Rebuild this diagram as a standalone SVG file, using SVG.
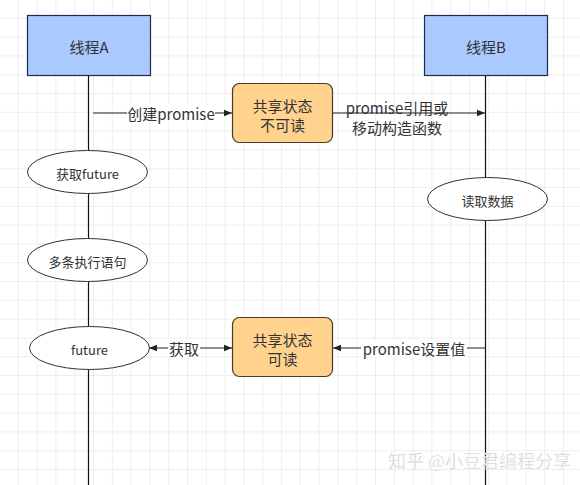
<svg xmlns="http://www.w3.org/2000/svg" width="580" height="485" viewBox="0 0 580 485">
<defs>
<pattern id="grid" width="18.8" height="18.8" patternUnits="userSpaceOnUse" x="0" y="0">
<path d="M18.8 0V18.8M0 18.8H18.8" fill="none" stroke="#dedede" stroke-width="1"/>
</pattern>
<marker id="ah" viewBox="0 0 10 10" refX="10" refY="5" markerWidth="8" markerHeight="8" markerUnits="userSpaceOnUse" orient="auto-start-reverse">
<path d="M0 1L10 5L0 9Z" fill="#222"/>
</marker>
<style>
.t{font-family:"Microsoft YaHei","Noto Sans CJK SC","Noto Sans",sans-serif;fill:#333;text-anchor:middle;dominant-baseline:central}
.thread{fill:#A9C9FF;stroke:#1c2b4a;stroke-width:1.2}
.state{fill:#FFD28E;stroke:#4a3a22;stroke-width:1.2}
.ell{fill:#fff;stroke:#333;stroke-width:1}
.life{stroke:#111;stroke-width:1.2;fill:none}
.edge{stroke:#222;stroke-width:1;fill:none}
.lbl{fill:#fff}
</style>
</defs>
<rect width="580" height="485" fill="#fff"/>
<rect width="580" height="485" fill="url(#grid)"/>

<g id="lifelines">
<line class="life" x1="88.5" y1="75" x2="88.5" y2="485"/>
<line class="life" x1="485.5" y1="75" x2="485.5" y2="485"/>
</g>

<g id="connectors">
<line class="edge" x1="93" y1="113" x2="232" y2="113" marker-end="url(#ah)"/>
<rect class="lbl" x="127" y="104" width="88" height="18"/>
<text class="t" x="171" y="113" font-size="15">创建promise</text>

<line class="edge" x1="333" y1="113" x2="485" y2="113" marker-end="url(#ah)"/>
<text class="t" x="397" y="107" font-size="15">promise引用或</text>
<text class="t" x="397" y="127.5" font-size="15">移动构造函数</text>

<line class="edge" x1="149" y1="348" x2="232" y2="348" marker-start="url(#ah)" marker-end="url(#ah)"/>
<rect class="lbl" x="168" y="339" width="32" height="18"/>
<text class="t" x="184" y="348" font-size="15">获取</text>

<line class="edge" x1="485" y1="348" x2="333" y2="348" marker-end="url(#ah)"/>
<rect class="lbl" x="361" y="339" width="106" height="18"/>
<text class="t" x="414" y="348" font-size="15">promise设置值</text>
</g>

<g id="threadA">
<rect class="thread" x="27.5" y="15.5" width="123" height="60"/>
<text class="t" x="89" y="46" font-size="15">线程A</text>
</g>
<g id="threadB">
<rect class="thread" x="424.5" y="15.5" width="123" height="60"/>
<text class="t" x="486" y="46" font-size="15">线程B</text>
</g>

<g id="state1">
<rect class="state" x="232.5" y="83.5" width="100" height="59" rx="7"/>
<text class="t" x="282.5" y="105" font-size="15">共享状态</text>
<text class="t" x="282.5" y="124" font-size="15">不可读</text>
</g>
<g id="state2">
<rect class="state" x="232.5" y="317.5" width="100" height="59" rx="7"/>
<text class="t" x="282.5" y="339" font-size="15">共享状态</text>
<text class="t" x="282.5" y="358" font-size="15">可读</text>
</g>

<g id="getFuture">
<ellipse class="ell" cx="87.5" cy="172" rx="60" ry="21.5"/>
<text class="t" x="87.5" y="173" font-size="13">获取future</text>
</g>
<g id="statements">
<ellipse class="ell" cx="87.5" cy="260" rx="60" ry="21.5"/>
<text class="t" x="87.5" y="261" font-size="13">多条执行语句</text>
</g>
<g id="future">
<ellipse class="ell" cx="89.5" cy="348" rx="60" ry="21.5"/>
<text class="t" x="89.5" y="349" font-size="13">future</text>
</g>
<g id="readData">
<ellipse class="ell" cx="487.5" cy="199" rx="60" ry="21.5"/>
<text class="t" x="487.5" y="200" font-size="13">读取数据</text>
</g>

<text x="388" y="460" font-family="Microsoft YaHei,Noto Sans CJK SC,sans-serif" font-size="18" fill="#cfcfcf" stroke="#fff" stroke-width="0.4" dominant-baseline="central">知乎 @小豆君编程分享</text>
</svg>
